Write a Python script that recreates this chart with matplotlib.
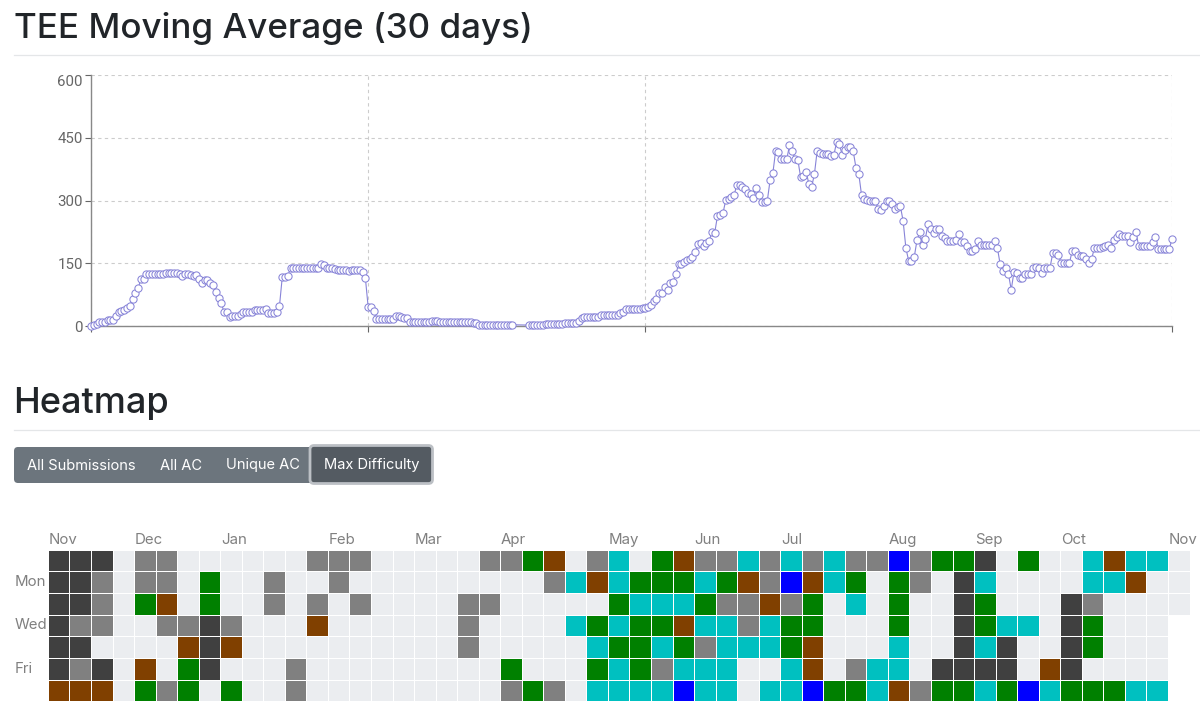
import numpy as np
import matplotlib as mpl
mpl.use('Agg')
import matplotlib.pyplot as plt
from matplotlib.colors import ListedColormap
from matplotlib.patches import FancyBboxPatch

plt.rcParams['font.family'] = ['Inter', 'DejaVu Sans']

## moving average values
tee_start = [0, 2, 4, 9, 10, 10, 14, 15, 15, 24,
             34, 36, 38, 42, 48, 65, 78, 90, 112, 113,
             124, 124, 124, 124, 124, 124, 125, 128, 128, 128,
             127, 126, 124, 119, 124, 124, 121, 120, 121, 112,
             104, 110, 110, 104, 98, 81, 67, 55, 33, 33,
             22, 25, 25, 25, 29, 34, 34, 33, 33, 38,
             38, 38, 38, 40, 32, 32, 32, 34, 48, 117,
             117, 120, 139, 139, 139, 139, 139, 139, 139, 139,
             138, 138, 139, 148, 145, 140, 139, 138, 136, 133,
             133, 133, 133, 132, 134, 134, 134, 133, 129, 114,
             45, 45, 35, 16]
tee_low = [16, 16, 16, 16, 16, 16, 24, 25, 22, 20, 18,
           10, 10, 10, 10, 10, 10, 10, 10, 11, 11, 11,
           10, 10, 10, 10, 10, 10, 10, 9, 9, 9, 9, 9, 8, 8,
           3, 3, 3, 3, 3, 3, 3, 3, 3, 3, 3, 3, 3]
tee_return = [2, 2, 2, 2, 2, 3, 4, 4, 4, 4, 4, 4, 5, 6, 6, 6, 6, 8, 11, 20,
              21, 22, 21, 21, 21, 22, 26, 27, 27, 27, 27, 26, 27, 32, 34, 40,
              41, 41, 41, 41, 41]
tee_peak = [42, 44, 45, 51, 61, 65, 79, 80, 94, 87,
            102, 106, 124, 148, 148, 153, 158, 161, 164, 177,
            196, 199, 191, 199, 203, 224, 222, 263, 266, 270,
            301, 305, 309, 313, 338, 338, 333, 329, 319, 317,
            307, 330, 313, 297, 297, 300, 349, 366, 419, 417,
            400, 400, 399, 432, 419, 399, 398, 357, 360, 369,
            340, 333, 364, 420, 413, 412, 412, 412, 408, 409,
            440, 436, 409, 422, 428, 428, 418, 378, 364, 313,
            304, 301, 299, 299, 299, 279, 278, 288, 299, 299,
            293, 280, 285, 287, 251, 186, 156, 155, 165]
tee_end = [205, 224, 195, 209, 244, 233, 223, 233, 231, 215,
           210, 203, 203, 203, 207, 219, 200, 200, 191, 179,
           179, 184, 204, 193, 193, 193, 193, 193, 204,
           187, 148, 131, 138, 124, 87, 130, 128, 116, 116,
           124, 124, 124, 138, 142, 138, 126, 140, 140, 140,
           175, 175, 170, 151, 150, 150, 151, 180, 180, 169,
           168, 167, 160, 150, 160, 187, 187, 187, 188, 191, 194,
           186, 207, 212, 219, 215, 215, 215, 200, 214, 224,
           191, 191, 191, 191, 191, 200, 214, 184, 184, 184,
           184, 184, 208]
y_ticks = [0, 150, 300, 450, 600]
x_ticks = [0, 100, 200, 390]

## heatmap, one string per weekday row, one letter per week
## . none, D dark, G grey, B brown, E green, C cyan, L blue, space = no cell
heat_rows = [
    "DDD.GG......GGG.....GGEB.GC.EBGGCGCGCGGLGEED.E..CBCC.",
    "DDG.GG.E..G..G.........GCBCEEECEBGLBCE.EG.DC....CCB..",
    "DDG.EB.E..G.G.G....GG.....ECCCEGGBGE.C.E..DE...DG....",
    "DGG..GGDG...B......G....CECEEBCCGCEE...E..DECC.DE... ",
    "DD....BDB..........G.....CEECEGCCCEB...C..DCD..DE... ",
    "DGD.B.ED...G.........E...ECEGCCC..CB.GCC.DDDD.BD.... ",
    "BBB.EGE.E..G.........GEG.CCCCLCC.CCLEECBGEECELCEEECC ",
]
level_colors = {'.': '#ebedf0', 'D': '#404040', 'G': '#808080', 'B': '#804000',
                'E': '#008000', 'C': '#00c0c0', 'L': '#0000ff'}
months = ['Nov', 'Dec', 'Jan', 'Feb', 'Mar', 'Apr', 'May', 'Jun', 'Jul', 'Aug', 'Sep', 'Oct', 'Nov']
month_weeks = [0, 4, 8, 13, 17, 21, 26, 30, 34, 39, 43, 47, 52]
day_labels = ['Mon', 'Wed', 'Fri']
day_rows = [1, 3, 5]

buttons = ['All Submissions', 'All AC', 'Unique AC', 'Max Difficulty']
button_x = [27, 160, 226, 324]

W, H = 1200, 711


def px_axes(fig, left, top, right, bottom):
    return fig.add_axes([left / W, 1 - bottom / H, (right - left) / W, (bottom - top) / H])


fig = plt.figure(figsize=(12, 7.11), dpi=100, facecolor='white')

## page furniture in pixel coordinates
page = fig.add_axes([0, 0, 1, 1])
page.set_xlim(0, W)
page.set_ylim(H, 0)
page.axis('off')

page.text(14, 38, 'TEE Moving Average (30 days)', fontsize=25.2, fontweight='medium', color='#212529', va='baseline')
page.plot([14, 1200], [55, 55], color='#e4e6e8', lw=0.9)
page.text(13.5, 413, 'Heatmap', fontsize=26, fontweight='medium', color='#212529', va='baseline')
page.plot([14, 1200], [430, 430], color='#e4e6e8', lw=0.9)

page.add_patch(FancyBboxPatch((14, 447), 419, 36, boxstyle='round,pad=0,rounding_size=4',
                              fc='#6c757d', ec='none'))
page.add_patch(FancyBboxPatch((310, 445.5), 122.5, 38, boxstyle='round,pad=0,rounding_size=4',
                              fc='#545b62', ec='#bcc0c5', lw=2))
for label, x in zip(buttons, button_x):
    page.text(x, 465.5, label, fontsize=10.55, color='white', va='center')

## line chart
tee = tee_start + tee_low + tee_return + tee_peak + tee_end
days = list(range(153)) + list(range(158, 391))

ax = px_axes(fig, 91, 75.3, 1172, 326)
ax.patch.set_alpha(0)
ax.grid(True, color='#cccccc', linestyle=(0, (3, 3)), linewidth=0.8)
ax.set_axisbelow(True)
ax.plot(days, tee, color='#8884d8', lw=0.8, marker='o', ms=5.2, mfc='white',
        mec='#8884d8', mew=0.75, clip_on=False, zorder=3)
ax.set_xlim(0, 390)
ax.set_ylim(0, 600)
ax.set_xticks(x_ticks)
ax.set_xticklabels([])
ax.set_yticks(y_ticks)
ax.tick_params(axis='both', color='#666666', length=4.3, width=0.8, labelcolor='#666666',
               labelsize=10.8, labelfontfamily='Roboto', pad=1.5)
ax.get_yticklabels()[-1].set_va('top')
for side in ['top', 'right']:
    ax.spines[side].set_visible(False)
for side in ['left', 'bottom']:
    ax.spines[side].set_color('#888888')
    ax.spines[side].set_linewidth(1.0)

## heatmap grid
letters = list(level_colors)
grid = np.array([[letters.index(c) if c in level_colors else -1 for c in row] for row in heat_rows], dtype=float)
grid = np.ma.masked_less(grid, 0)

hm = px_axes(fig, 47.9, 549.6, 47.9 + 53 * 21.54, 549.6 + 7 * 21.65)
hm.patch.set_alpha(0)
hm.pcolormesh(grid, cmap=ListedColormap([level_colors[k] for k in letters]), vmin=0, vmax=len(letters) - 1,
              edgecolors='white', linewidth=0.55)
hm.set_xlim(0, 53)
hm.set_ylim(7, 0)
hm.axis('off')
for label, week in zip(months, month_weeks):
    hm.text(week + 0.03, -0.46, label, fontsize=10.8, color='#808080', va='center', clip_on=False)
for label, row in zip(day_labels, day_rows):
    hm.text(-1.53, row + 0.5, label, fontsize=10.8, color='#808080', va='center', clip_on=False)

fig.savefig('out.png', dpi=100)
